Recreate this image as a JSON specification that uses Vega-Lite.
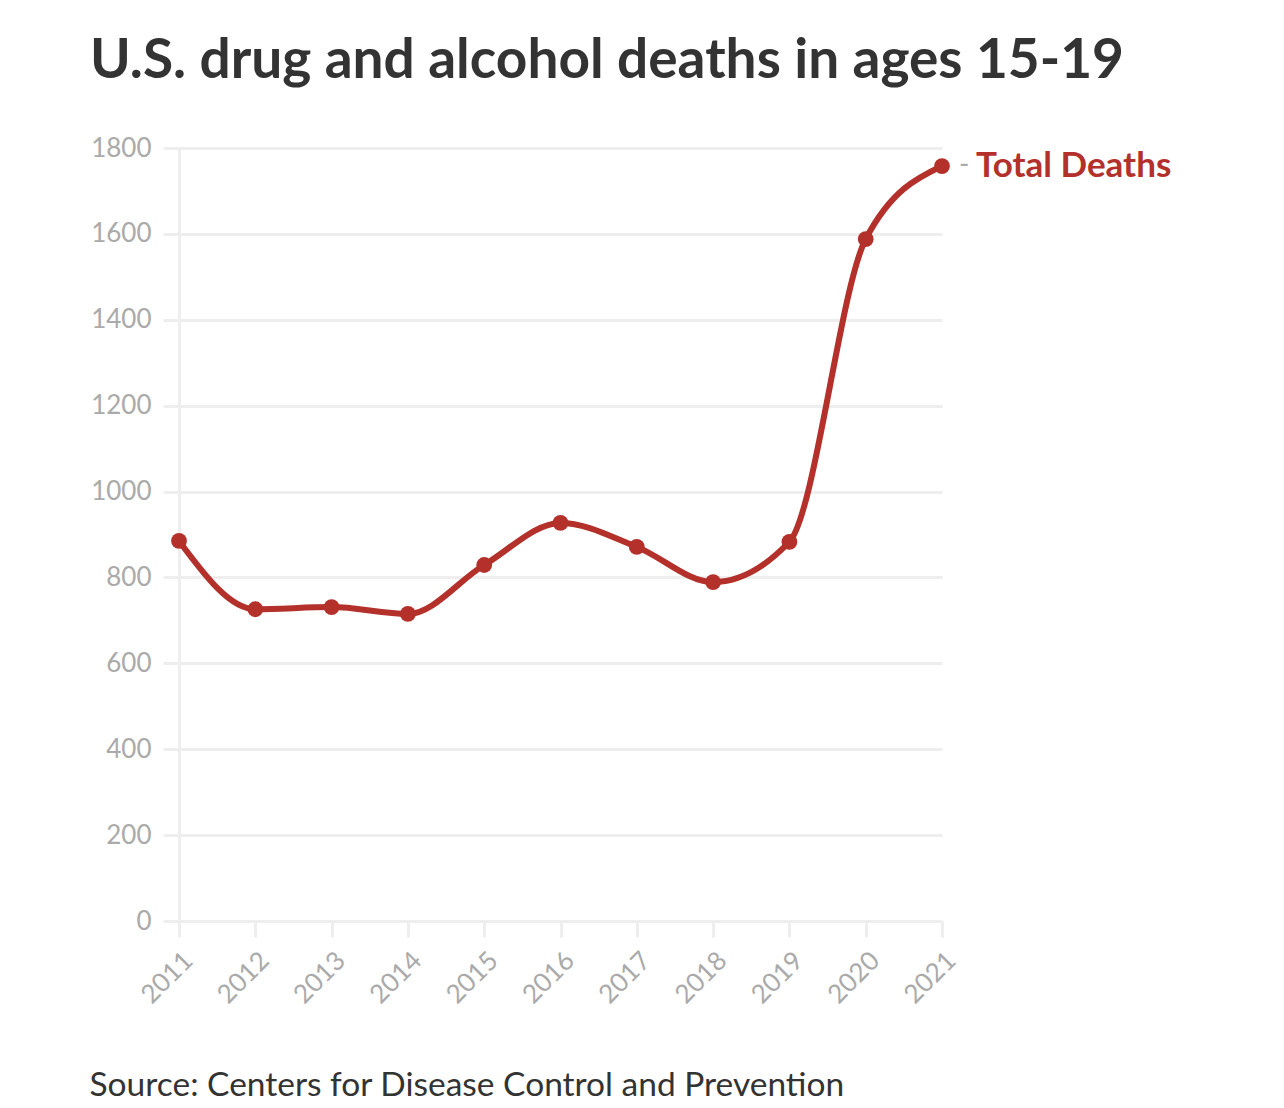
{
  "$schema": "https://vega.github.io/schema/vega-lite/v6.json",
  "autosize": "none",
  "width": 763,
  "height": 773,
  "padding": {"left": 179, "top": 148, "right": 342, "bottom": 187},
  "background": "white",
  "config": {"font": "Lato", "view": {"stroke": null}},
  "title": {
    "text": "U.S. drug and alcohol deaths in ages 15-19",
    "anchor": "start",
    "frame": "group",
    "dx": -89,
    "fontSize": 55,
    "fontWeight": "bold",
    "color": "#333333",
    "font": "Lato",
    "offset": 45
  },
  "data": {
    "values": [
      {"year": "2011", "deaths": 885, "series": "Total Deaths"},
      {"year": "2012", "deaths": 726, "series": "Total Deaths"},
      {"year": "2013", "deaths": 731, "series": "Total Deaths"},
      {"year": "2014", "deaths": 715, "series": "Total Deaths"},
      {"year": "2015", "deaths": 829, "series": "Total Deaths"},
      {"year": "2016", "deaths": 927, "series": "Total Deaths"},
      {"year": "2017", "deaths": 871, "series": "Total Deaths"},
      {"year": "2018", "deaths": 789, "series": "Total Deaths"},
      {"year": "2019", "deaths": 883, "series": "Total Deaths"},
      {"year": "2020", "deaths": 1588, "series": "Total Deaths"},
      {"year": "2021", "deaths": 1758, "series": "Total Deaths"}
    ]
  },
  "encoding": {
    "x": {
      "field": "year",
      "type": "ordinal",
      "scale": {"type": "point", "padding": 0},
      "axis": {
        "title": "Source: Centers for Disease Control and Prevention",
        "titleFont": "Lato",
        "titleFontSize": 33.5,
        "titleFontWeight": "normal",
        "titleColor": "#333333",
        "titleAnchor": "start",
        "titleAlign": "left",
        "titleX": -90,
        "titleY": 174,
        "titleBaseline": "alphabetic",
        "labelAngle": -45,
        "labelAlign": "right",
        "labelBaseline": "top",
        "labelFontSize": 26,
        "labelColor": "#aaaaaa",
        "labelPadding": 10,
        "labelFont": "Lato",
        "domain": false,
        "tickColor": "#eeeeee",
        "tickWidth": 3,
        "tickSize": 16,
        "grid": false
      }
    },
    "y": {
      "field": "deaths",
      "type": "quantitative",
      "scale": {"domain": [0, 1800], "nice": false},
      "axis": {
        "title": null,
        "format": "d",
        "values": [0, 200, 400, 600, 800, 1000, 1200, 1400, 1600, 1800],
        "labelFontSize": 26,
        "labelColor": "#aaaaaa",
        "labelFont": "Lato",
        "labelPadding": 12,
        "domainColor": "#eeeeee",
        "domainWidth": 3,
        "tickColor": "#eeeeee",
        "tickWidth": 3,
        "tickSize": 16,
        "grid": true,
        "gridColor": "#eeeeee",
        "gridWidth": 3
      }
    }
  },
  "layer": [
    {
      "mark": {"type": "line", "interpolate": "monotone", "color": "#b3302b", "strokeWidth": 6}
    },
    {
      "mark": {"type": "point", "filled": true, "opacity": 1, "color": "#b3302b", "size": 250}
    },
    {
      "transform": [{"filter": "datum.year == '2021'"}],
      "mark": {"type": "text", "text": "-", "color": "#aaaaaa", "fontSize": 28, "align": "left", "baseline": "middle", "dx": 17, "font": "Lato"}
    },
    {
      "transform": [{"filter": "datum.year == '2021'"}],
      "mark": {"type": "text", "color": "#b3302b", "fontSize": 35, "fontWeight": "bold", "align": "left", "baseline": "middle", "dx": 34, "font": "Lato"},
      "encoding": {"text": {"field": "series"}}
    }
  ]
}
